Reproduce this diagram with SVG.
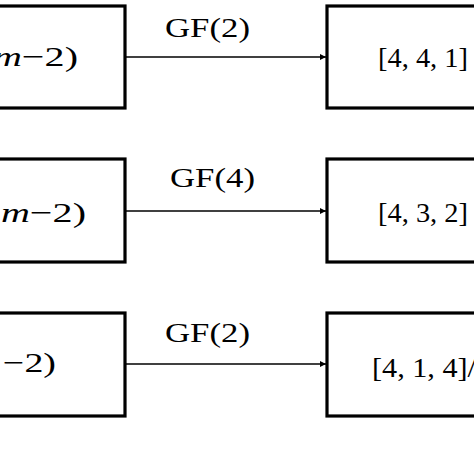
<svg xmlns="http://www.w3.org/2000/svg" width="474" height="474" viewBox="0 0 474 474">
<style>
.box{fill:#fff;stroke:#000;stroke-width:3.2}
.t{font-family:"Liberation Serif","Times New Roman",serif;font-size:28px;fill:#000}
.lbl{font-family:"Liberation Serif","Times New Roman",serif;font-size:28px;fill:#000}
.c{stroke:#000;stroke-width:1.6;fill:none}
</style>
<defs>
<marker id="ah" viewBox="0 0 10 10" refX="10" refY="5" markerWidth="8" markerHeight="6" markerUnits="userSpaceOnUse" orient="auto">
<path d="M0,0 L10,5 L0,10 z" fill="#000"/>
</marker>
</defs>
<rect width="474" height="474" fill="#fff"/>
<g id="left1"><rect class="box" x="-100" y="6" width="225" height="102"/><text class="t" x="-7" y="66" textLength="85" lengthAdjust="spacingAndGlyphs"><tspan font-style="italic">m</tspan>−2)</text></g>
<g id="left2"><rect class="box" x="-100" y="159" width="225" height="103"/><text class="t" x="1" y="222" textLength="85" lengthAdjust="spacingAndGlyphs"><tspan font-style="italic">m</tspan>−2)</text></g>
<g id="left3"><rect class="box" x="-100" y="313" width="225" height="103"/><text class="t" x="3" y="372" textLength="53" lengthAdjust="spacingAndGlyphs">−2)</text></g>
<g id="right1"><rect class="box" x="327" y="6" width="200" height="102"/><text class="t" x="378" y="67" textLength="90" lengthAdjust="spacingAndGlyphs">[4, 4, 1]</text></g>
<g id="right2"><rect class="box" x="327" y="159" width="200" height="103"/><text class="t" x="378" y="222" textLength="90" lengthAdjust="spacingAndGlyphs">[4, 3, 2]</text></g>
<g id="right3"><rect class="box" x="327" y="313" width="200" height="103"/><text class="t" x="372" y="377" textLength="104" lengthAdjust="spacingAndGlyphs">[4, 1, 4]/</text></g>
<g id="connectors">
<line class="c" x1="125" y1="57" x2="326" y2="57" marker-end="url(#ah)"/>
<line class="c" x1="125" y1="211" x2="326" y2="211" marker-end="url(#ah)"/>
<line class="c" x1="125" y1="364" x2="326" y2="364" marker-end="url(#ah)"/>
<text class="lbl" x="165" y="37" textLength="85" lengthAdjust="spacingAndGlyphs">GF(2)</text>
<text class="lbl" x="170" y="187" textLength="85" lengthAdjust="spacingAndGlyphs">GF(4)</text>
<text class="lbl" x="165" y="342" textLength="85" lengthAdjust="spacingAndGlyphs">GF(2)</text>
</g>
</svg>
